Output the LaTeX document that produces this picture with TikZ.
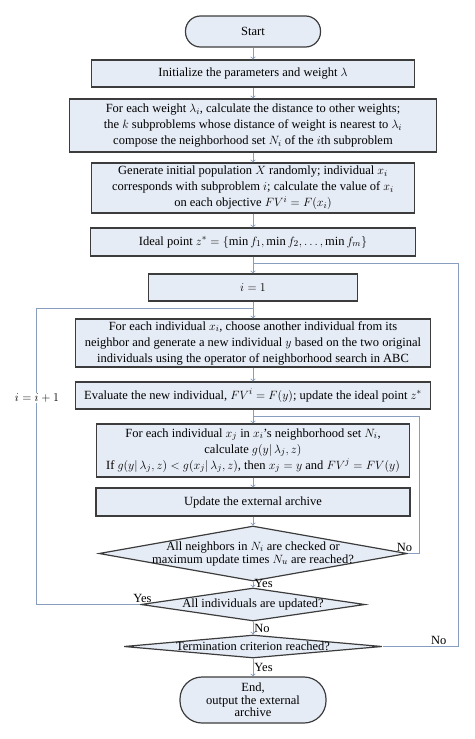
\documentclass[tikz,border=0pt]{standalone}
\usepackage{amsmath}
\usepackage{fontspec}
\setmainfont{Liberation Serif}
\usetikzlibrary{positioning,calc,shapes}

\definecolor{boxfill}{RGB}{230,236,246}
\definecolor{boxline}{RGB}{60,60,60}
\definecolor{flowline}{RGB}{135,158,190}

\begin{document}
\begin{tikzpicture}[x=1pt,y=-1pt,
		every node/.style={font=\fontsize{12.5}{16}\selectfont},
		proc/.style={draw=boxline,line width=1.2pt,fill=boxfill,align=center,inner sep=0pt,minimum height=27pt},
		term/.style={proc,rounded corners=15pt},
		dec/.style={draw=boxline,line width=1.2pt,fill=boxfill,diamond,inner sep=0pt},
		flow/.style={draw=flowline,line width=0.9pt,->},
		loop/.style={draw=flowline,line width=0.9pt},
		lab/.style={inner sep=1pt}]
		\useasboundingbox (0,0) rectangle (474,739);
		\node[term,minimum width=135pt,minimum height=31pt] (start) at (253,31.5) {Start};
		\node[proc,minimum width=323pt] (init) at (253,73.5) {Initialize the parameters and weight $\lambda$};
		\node[proc,minimum width=367pt,minimum height=53pt] (weights) at (253,125.5) {For each weight $\lambda_i$, calculate the distance to other weights;\\ the $k$ subproblems whose distance of weight is nearest to $\lambda_i$\\ compose the neighborhood set $N_i$ of the $i$th subproblem};
		\node[proc,minimum width=323pt,minimum height=50pt] (pop) at (253,188) {Generate initial population $X$ randomly; individual $x_i$\\ corresponds with subproblem $i$; calculate the value of $x_i$\\ on each objective $FV^i=F(x_i)$};
		\node[proc,minimum width=325pt,minimum height=28pt] (ideal) at (253,242) {Ideal point $z^*=\{\min f_1,\min f_2,\ldots,\min f_m\}$};
		\node[proc,minimum width=209pt] (first) at (253,287.5) {$i=1$};
		\node[proc,minimum width=355pt,minimum height=48pt] (search) at (253,343) {For each individual $x_i$, choose another individual from its\\ neighbor and generate a new individual $y$ based on the two original\\ individuals using the operator of neighborhood search in ABC};
		\node[proc,minimum width=355pt] (eval) at (253,395.5) {Evaluate the new individual, $FV^i=F(y)$; update the ideal point $z^*$};
		\node[proc,minimum width=313pt,minimum height=53pt] (nbr) at (253,450.5) {For each individual $x_j$ in $x_i$'s neighborhood set $N_i$,\\ calculate $g(y|\,\lambda_j,z)$\\ If $g(y|\,\lambda_j,z)<g(x_j|\,\lambda_j,z)$, then $x_j=y$ and $FV^j=FV(y)$};
		\node[proc,minimum width=314pt,minimum height=28pt] (archive) at (253,502) {Update the external archive};
		% decisions
		\node[dec,minimum width=308pt,minimum height=55pt] (check) at (253,553.5) {};
		\node[lab,align=center,font=\fontsize{12.5}{13}\selectfont] (checktxt) at (check) {All neighbors in $N_i$ are checked or\\ maximum update times $N_u$ are reached?};
		\node[dec,minimum width=224pt,minimum height=33pt] (allind) at (253,604.5) {};
		\node[lab] (allindtxt) at (allind) {All individuals are updated?};
		\node[dec,minimum width=258pt,minimum height=23pt] (stop) at (253,646.5) {};
		\node[lab] (stoptxt) at (stop) {Termination criterion reached?};
		\node[term,minimum width=146pt,minimum height=46pt,rounded corners=22pt,font=\fontsize{12.5}{12.5}\selectfont] (end) at (253,700) {End,\\ output the external\\ archive};
		% main flow
		\draw[flow] (start) -- (init);
		\draw[flow] (init) -- (weights);
		\draw[flow] (weights) -- (pop);
		\draw[flow] (pop) -- (ideal);
		\draw[flow] (ideal) -- (first);
		\draw[flow] (first) -- (search);
		\draw[flow] (search) -- (eval);
		\draw[flow] (eval) -- (nbr);
		\draw[flow] (nbr) -- (archive);
		\draw[flow] (archive) -- (check);
		\draw[flow] (check) -- node[right,lab,pos=0.4] {Yes} (allind);
		\draw[flow] (allind) -- node[right,lab] {No} (stop);
		\draw[flow] (stop) -- node[right,lab] {Yes} (end);
		% loops
		\coordinate (innerjoin) at ($(eval.south)!0.5!(nbr.north)$);
		\coordinate (outerjoin) at ($(ideal.south)!0.4!(first.north)$);
		\coordinate (leftjoin) at ($(first.south)!0.4!(search.north)$);
		\draw[loop] (check.east) -- ++(12,0) |- (innerjoin);
		\node[lab,above=1pt,xshift=-3pt] at (check.east) {No};
		\draw[loop] (stop.east) -- node[above,lab,pos=0.74] {No} ++(76,0) |- (outerjoin);
		\draw[loop] (allind.west) -- ++(-104,0) |- (leftjoin);
		\node[lab,above=1pt,xshift=2pt] at (allind.west) {Yes};
		\node[fill=white,inner sep=1pt] (incr) at (37,398) {$i=i+1$};
\end{tikzpicture}
\end{document}
